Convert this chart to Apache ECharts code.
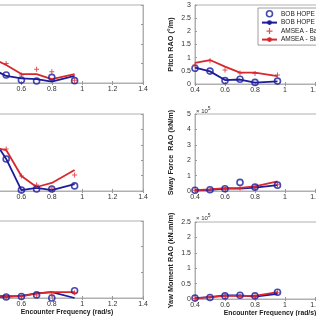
<!DOCTYPE html>
<html><head><meta charset="utf-8">
<script src="https://cdn.jsdelivr.net/npm/echarts@6/dist/echarts.min.js"></script>
<style>html,body{margin:0;padding:0;background:#fff}#c{width:316px;height:316px}</style>
</head><body><div id="c"></div>
<script>
const freq = [0.4, 0.5, 0.6, 0.7, 0.8, 0.95];
const xTicks = [0.4, 0.6, 0.8, 1, 1.2, 1.4];
const seriesNames = ['BOB HOPE - Experiment', 'BOB HOPE - Simulation', 'AMSEA - Based on Experiment', 'AMSEA - Simulation'];

// left column (labels outside the crop)
const bobExpA = [0.80, 0.41, 0.15, 0.10, 0.29, 0.12];
const bobSimA = [0.75, 0.36, 0.24, 0.20, 0.07, 0.36];
const amsExpA = [1.30, 1.00, 0.41, 0.70, 0.58, 0.14];
const amsSimA = [1.30, 0.92, 0.46, 0.46, 0.20, 0.46];

const bobExpB = [3.80, 2.08, 0.06, 0.13, 0.13, 0.33];
const bobSimB = [3.60, 2.08, 0.06, 0.20, 0.06, 0.45];
const amsExpB = [2.90, 2.72, 0.97, 0.39, 0.20, 1.04];
const amsSimB = [2.85, 2.66, 0.97, 0.26, 0.52, 1.36];

const bobExpC = [0.05, 0.04, 0.06, 0.12, 0.00, 0.28];
const bobSimC = [0.05, 0.04, 0.08, 0.18, 0.23, 0.00];
const amsExpC = [0.06, 0.04, 0.06, 0.12, 0.12, 0.20];
const amsSimC = [0.08, 0.08, 0.06, 0.18, 0.23, 0.23];

// right column
const bobExpD = [0.60, 0.49, 0.13, 0.18, 0.06, 0.11];
const bobSimD = [0.62, 0.48, 0.15, 0.17, 0.05, 0.10];
const amsExpD = [0.72, 0.88, 0.53, 0.42, 0.40, 0.34];
const amsSimD = [0.80, 0.91, 0.66, 0.43, 0.43, 0.30];

const bobExpE = [0.05, 0.08, 0.15, 0.56, 0.25, 0.38];
const bobSimE = [0.05, 0.08, 0.15, 0.15, 0.22, 0.38];
const amsExpE = [0.05, 0.10, 0.15, 0.20, 0.25, 0.40];
const amsSimE = [0.05, 0.10, 0.18, 0.20, 0.30, 0.62];

const bobExpF = [0.03, 0.05, 0.10, 0.12, 0.10, 0.22];
const bobSimF = [0.03, 0.06, 0.12, 0.12, 0.08, 0.17];
const amsExpF = [0.02, 0.05, 0.10, 0.10, 0.08, 0.20];
const amsSimF = [0.02, 0.06, 0.10, 0.10, 0.10, 0.22];

const yTicksA = [0, 1, 2, 3, 4];
const yTicksB = [0, 1, 2, 3, 4, 5];
const yTicksC = [0, 1, 2, 3];
const yTicksD = [0, 0.5, 1, 1.5, 2, 2.5, 3];
const yTicksE = [0, 1, 2, 3, 4, 5];
const yTicksF = [0, 0.5, 1, 1.5, 2, 2.5];

const panels = [
  {d: [bobExpA, bobSimA, amsExpA, amsSimA], yt: yTicksA, left: -9, width: 152, top: 5, height: 78, name: '', xname: ''},
  {d: [bobExpB, bobSimB, amsExpB, amsSimB], yt: yTicksB, left: -9, width: 152, top: 114, height: 77, name: '', xname: ''},
  {d: [bobExpC, bobSimC, amsExpC, amsSimC], yt: yTicksC, left: -9, width: 152, top: 221, height: 77, name: '', xname: 'Encounter Frequency (rad/s)'},
  {d: [bobExpD, bobSimD, amsExpD, amsSimD], yt: yTicksD, left: 195, width: 150, top: 5, height: 79, name: 'Pitch RAO (°/m)', xname: ''},
  {d: [bobExpE, bobSimE, amsExpE, amsSimE], yt: yTicksE, left: 195, width: 150, top: 114, height: 77, name: 'Sway Force  RAO (kN/m)', xname: ''},
  {d: [bobExpF, bobSimF, amsExpF, amsSimF], yt: yTicksF, left: 195, width: 150, top: 222, height: 77, name: 'Yaw Moment RAO (kN.m/m)', xname: 'Encounter Frequency (rad/s)'}
];

const BLUE = '#1c1c9c', RED = '#d8272d', AX = '#b0b0b0', TXT = '#333';
const FONT = 'Liberation Sans';
const plusPath = 'path://M4,0 L6,0 L6,4 L10,4 L10,6 L6,6 L6,10 L4,10 L4,6 L0,6 L0,4 L4,4 Z';
const fmt = v => String(+v.toFixed(2));

const grid = [], xAxis = [], yAxis = [], series = [];
panels.forEach((p, i) => {
  grid.push({left: p.left, top: p.top, width: p.width, height: p.height, show: true, borderColor: AX, borderWidth: 1,
    containLabel: false, outerBoundsMode: 'none'});
  const yMin = p.yt[0], yMax = p.yt[p.yt.length - 1], yInt = p.yt[1] - p.yt[0];
  const xMin = xTicks[0], xMax = xTicks[xTicks.length - 1], xInt = xTicks[1] - xTicks[0];
  const xBase = {type: 'value', gridIndex: i, min: xMin, max: xMax, interval: xInt,
    splitLine: {show: false}, axisLine: {lineStyle: {color: AX, width: 1}},
    axisTick: {inside: true, length: 2, lineStyle: {color: '#999'}}};
  xAxis.push(Object.assign({}, xBase, {position: 'bottom',
    axisLabel: {fontSize: 7, color: TXT, fontFamily: FONT, margin: 3, formatter: fmt},
    name: p.xname, nameLocation: 'middle', nameGap: 10.5,
    nameTextStyle: {fontSize: 6.8, fontWeight: 'bold', color: '#222', fontFamily: FONT}}));
  xAxis.push(Object.assign({}, xBase, {position: 'top', axisLabel: {show: false}}));
  const yBase = {type: 'value', gridIndex: i, min: yMin, max: yMax, interval: yInt,
    splitLine: {show: false}, axisLine: {show: true, lineStyle: {color: AX, width: 1}},
    axisTick: {show: true, inside: true, length: 2, lineStyle: {color: '#999'}}};
  yAxis.push(Object.assign({}, yBase, {position: 'left',
    axisLabel: {fontSize: 7, color: TXT, fontFamily: FONT, margin: 4, formatter: fmt},
    name: p.name, nameLocation: 'middle', nameGap: 21, nameRotate: 90,
    nameTextStyle: {fontSize: 7.3, fontWeight: 'bold', color: '#222', fontFamily: FONT}}));
  yAxis.push(Object.assign({}, yBase, {position: 'right', axisLabel: {show: false}}));
  const xi = 2 * i, yi = 2 * i;
  const pts = arr => freq.map((f, k) => [f, arr[k]]);
  series.push({name: seriesNames[1], type: 'line', xAxisIndex: xi, yAxisIndex: yi, data: pts(p.d[1]),
    symbol: 'none', lineStyle: {color: BLUE, width: 1.8}, itemStyle: {color: BLUE}, z: 2, silent: true, animation: false});
  series.push({name: seriesNames[3], type: 'line', xAxisIndex: xi, yAxisIndex: yi, data: pts(p.d[3]),
    symbol: 'none', lineStyle: {color: RED, width: 1.8}, itemStyle: {color: RED}, z: 3, silent: true, animation: false});
  series.push({name: seriesNames[0], type: 'scatter', xAxisIndex: xi, yAxisIndex: yi, data: pts(p.d[0]),
    symbol: 'circle', symbolSize: 6, itemStyle: {color: 'rgba(0,0,0,0)', borderColor: BLUE, borderWidth: 1.6}, z: 4, silent: true, animation: false});
  series.push({name: seriesNames[2], type: 'scatter', xAxisIndex: xi, yAxisIndex: yi, data: pts(p.d[2]),
    symbol: plusPath, symbolSize: 5, itemStyle: {color: RED}, z: 5, silent: true, animation: false});
});

const chart = echarts.init(document.getElementById('c'), null, {renderer: 'canvas'});
chart.setOption({
  backgroundColor: '#fff',
  animation: false,
  grid, xAxis, yAxis, series,
  legend: {
    data: [
      {name: seriesNames[0], icon: 'circle', itemStyle: {color: '#fff', borderColor: BLUE, borderWidth: 1.6}},
      {name: seriesNames[1]},
      {name: seriesNames[2], icon: plusPath},
      {name: seriesNames[3]}
    ],
    orient: 'vertical', left: 258, top: 8, itemGap: 1.5, itemWidth: 15, itemHeight: 6,
    padding: [2, 3, 2, 3], borderColor: '#888', borderWidth: 0.8, backgroundColor: '#fff',
    textStyle: {fontSize: 6.5, color: '#222', fontFamily: FONT, padding: [0, 0, 0, -1]}, selectedMode: false
  },
  graphic: [
    {type: 'text', left: 196, top: 106, style: {text: '{a|× 10}{b|5}', rich: {a: {fontSize: 6, fill: TXT, fontFamily: FONT}, b: {fontSize: 5, fill: TXT, fontFamily: FONT, verticalAlign: 'top', padding: [0, 0, 5, 0]}}}},
    {type: 'text', left: 196, top: 213, style: {text: '{a|× 10}{b|5}', rich: {a: {fontSize: 6, fill: TXT, fontFamily: FONT}, b: {fontSize: 5, fill: TXT, fontFamily: FONT, verticalAlign: 'top', padding: [0, 0, 5, 0]}}}}
  ]
});
</script></body></html>
